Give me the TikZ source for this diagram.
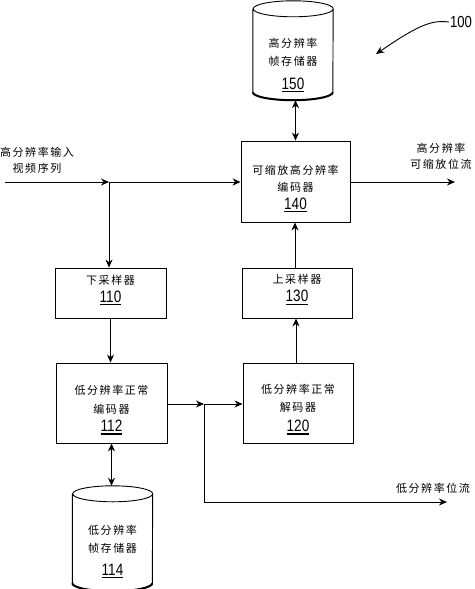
\documentclass[tikz,border=0pt]{standalone}
\usepackage{fontspec}
\newfontfamily\cjk[LetterSpace=14]{Noto Sans CJK SC}
\newfontfamily\numf[FakeStretch=0.82]{Liberation Sans}
\usetikzlibrary{arrows.meta,calc,shadows}
\newcommand\nb[1]{{\numf\fontsize{16.5}{16.5}\selectfont\setbox0\hbox{#1}\rlap{\rule[-3pt]{\wd0}{1.1pt}}\box0}}
\newcommand\tstr[1]{\rule{0pt}{#1pt}}
\begin{document}
\begin{tikzpicture}[x=1pt,y=-1pt,
  box/.style={draw,line width=0.9pt,fill=white,align=center,inner sep=0pt,
    drop shadow={shadow xshift=1.3pt,shadow yshift=-1.3pt,fill=black,opacity=1}},
  fs/.style={font=\cjk\fontsize{11}{#1}\selectfont},
  botx/.style={execute at end node={\rule[-#1pt]{0pt}{0pt}}},
  cylbox/.style={inner sep=0pt,minimum width=80,minimum height=#1},
  cyltext/.style={align=center,inner sep=0pt},
  lbl/.style={align=center,font=\cjk\fontsize{11}{16}\selectfont},
  conn/.style={line width=0.9pt},
  arr/.style={-{Stealth[length=8pt,width=7pt]}},
  dbl/.style={{Stealth[length=8pt,width=7pt]}-{Stealth[length=8pt,width=7pt]}}]
\useasboundingbox (0,0) rectangle (474,589);

% boxes
\node[box,fs=17,minimum width=109,minimum height=81] (enc140) at (295.5,181.5) {\tstr{23}可缩放高分辨率\\编码器\\[1pt]\nb{140}};
\node[box,fs=17,botx=8.2,minimum width=111,minimum height=50] (ds110) at (110.5,293) {下采样器\\[0.5pt]\nb{110}};
\node[box,fs=17,botx=9.6,minimum width=110,minimum height=50] (us130) at (297,293) {上采样器\\[0.7pt]\nb{130}};
\node[box,fs=18.3,minimum width=111,minimum height=80] (enc112) at (111.5,403) {\tstr{23.5}低分辨率正常\\编码器\\\nb{112}};
\node[box,fs=18.3,minimum width=110,minimum height=80] (dec120) at (298,403) {\tstr{21.7}低分辨率正常\\解码器\\[1.7pt]\nb{120}};

% cylinders
\node[cylbox=99] (mem150) at (293,50.5) {};
\node[cylbox=105] (mem114) at (112.5,538.5) {};
\foreach \c in {mem150,mem114} {
  \draw[line width=0.9pt,fill=white] ($(\c.north west)+(0,8)$) -- ($(\c.south west)+(0,-8)$)
    arc[start angle=180,end angle=360,x radius=40pt,y radius=8pt] -- ($(\c.north east)+(0,8)$)
    arc[start angle=0,end angle=360,x radius=40pt,y radius=8pt];
  \draw[line width=2pt] ($(\c.south west)+(0,-8)$) arc[start angle=180,end angle=360,x radius=40pt,y radius=8pt];
}
\node[cyltext,fs=18.4] (t150) at (293,65) {高分辨率\\帧存储器\\[4.9pt]\nb{150}};
\node[cyltext,fs=17.5] (t114) at (112.5,551.6) {低分辨率\\帧存储器\\[5.5pt]\nb{114}};

% connectors
\draw[conn,dbl] (enc140.north) -- (enc140.north |- mem150.south);
\coordinate (in0) at (5,182);
\coordinate (j1) at (109,182);
\draw[conn,arr] (in0) -- (j1);
\draw[conn,arr] (j1) -- (j1 -| enc140.west);
\draw[conn,arr] (j1) -- (j1 |- ds110.north);
\coordinate (out1) at (455,182);
\draw[conn,arr] (enc140.east |- out1) -- (out1);
\draw[conn,arr] (ds110.south) -- (ds110.south |- enc112.north);
\coordinate (j2) at (204,404);
\draw[conn,arr] (enc112.east |- j2) -- (j2);
\draw[conn,arr] (j2) -- (j2 -| dec120.west);
\coordinate (out2) at (447,502);
\draw[conn,arr] (j2) |- (out2);
\draw[conn,arr] ([xshift=-2pt]dec120.north) -- ([xshift=-2pt]dec120.north |- us130.south);
\draw[conn,arr] ([xshift=-2pt]us130.north) -- ([xshift=-2pt]us130.north |- enc140.south);
\draw[conn,dbl] (enc112.south) -- (enc112.south |- mem114.north);

% labels
\node[lbl] (lin) at (37,160) {高分辨率输入\\视频序列};
\node[lbl] (lout) at (441,156) {高分辨率\\可缩放位流};
\node[lbl] (llow) at (433,488) {低分辨率位流};
\node[font=\numf\fontsize{16}{16}\selectfont,inner sep=1pt] (l100) at (461,22) {100};
\coordinate (a100) at (376,54);
\draw[conn,arr] (l100.west) .. controls (432,20) and (420,24) .. (a100);
\end{tikzpicture}
\end{document}
